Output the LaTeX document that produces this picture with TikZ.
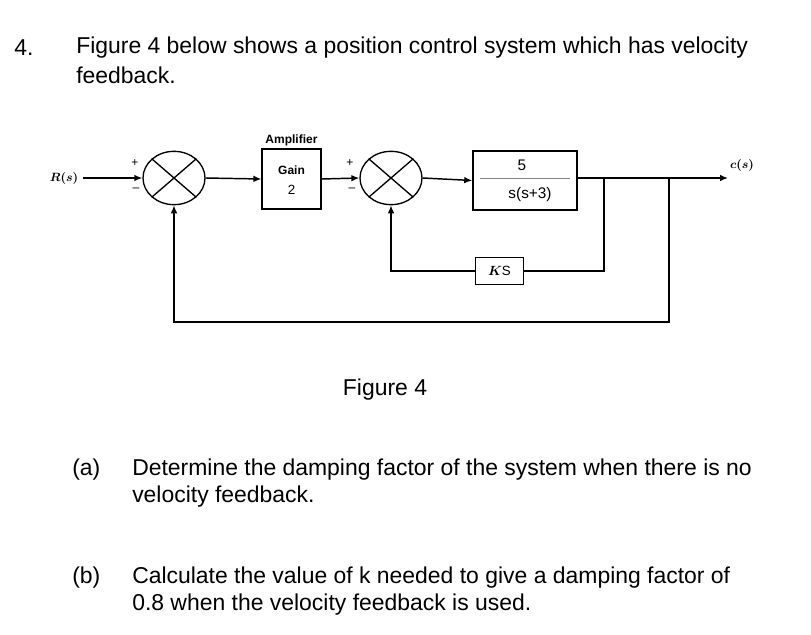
\documentclass[tikz,border=0pt]{standalone}
\usepackage{amsmath,bm}
\usepackage{fontspec}
\setmainfont{Liberation Sans}
\usetikzlibrary{arrows.meta,shapes.geometric}
\begin{document}
\begin{tikzpicture}[x=0.75pt,y=-0.75pt,
  txt/.style={anchor=west,inner sep=0,font=\fontsize{17.2}{19}\selectfont},
  blk/.style={draw,line width=1.1pt,inner sep=0},
  ln/.style={line width=1.1pt},
  ar/.style={ln,-{Latex[length=6pt,width=5pt]}},
  sg/.style={font=\fontsize{9}{9}\selectfont,inner sep=0}]
\useasboundingbox (0,0) rectangle (811,635);
\node[txt] (n4) at (14,48) {4.};
\node[txt] (p1) at (76,48) {Figure 4 below shows a position control system which has velocity};
\node[txt] (p2) at (76,75) {feedback.};
\node (R) at (64,178) {\small$\bm{R(s)}$};
\node[draw,line width=1pt,ellipse,minimum width=46.5pt,minimum height=40pt,inner sep=0] (s1) at (174,178) {};
\draw[line width=1pt] (s1.north east) -- (s1.south west) (s1.north west) -- (s1.south east);
\node[blk,minimum width=44pt,minimum height=45pt] (g) at (291.5,179) {};
\node[font=\fontsize{9}{9}\selectfont\bfseries] (gl1) at (291.5,170) {Gain};
\node[font=\fontsize{10}{10}\selectfont] (gl2) at (291.5,190) {2};
\node[font=\fontsize{9}{9}\selectfont\bfseries] (amp) at (291.5,140) {Amplifier};
\node[draw,line width=1pt,ellipse,minimum width=46.5pt,minimum height=40pt,inner sep=0] (s2) at (391,178) {};
\draw[line width=1pt] (s2.north east) -- (s2.south west) (s2.north west) -- (s2.south east);
\node[blk,minimum width=78pt,minimum height=44pt] (p) at (525,180.5) {};
\node[font=\fontsize{11.5}{12}\selectfont] (pn) at (522,165) {5};
\draw[line width=0.4pt,gray] (480,178) -- (570,178);
\node[font=\fontsize{11.5}{12}\selectfont] (pd) at (530,195) {s(s+3)};
\node[blk,minimum width=36pt,minimum height=20pt] (k) at (499.5,271) {};
\node[font=\fontsize{10}{10}\selectfont] (kl) at (499.5,271) {$\bm{K}$S};
\coordinate (b1) at (604,178);
\coordinate (b2) at (669,178);
\coordinate (out) at (728,178);
\node (c) at (742,165) {\small$\bm{c(s)}$};
\node[sg] (pl1) at (135,163) {+};
\node[sg] (mi1) at (136,190) {--};
\node[sg] (pl2) at (350,163) {+};
\node[sg] (mi2) at (352,190) {--};
\draw[ar] (R.east) -- (s1.west);
\draw[ar] (s1.east) -- (g.west);
\draw[ar] (g.east) -- (s2.west);
\draw[ar] (s2.east) -- (p.west);
\draw[ar] (p.east |- out) -- (out);
\draw[ln] (b1) |- (k.east);
\draw[ar] (k.west) -| (s2.south);
\draw[ar] (b2) |- (174,322) -- (s1.south);
\node[font=\fontsize{17.2}{19}\selectfont,inner sep=0] (f4) at (385,390) {Figure 4};
\node[txt] (a) at (72,470) {(a)};
\node[txt] (a1) at (132,470) {Determine the damping factor of the system when there is no};
\node[txt] (a2) at (132,497) {velocity feedback.};
\node[txt] (b) at (72,578) {(b)};
\node[txt] (b1t) at (132,578) {Calculate the value of k needed to give a damping factor of};
\node[txt] (b2t) at (132,605) {0.8 when the velocity feedback is used.};
\end{tikzpicture}
\end{document}
